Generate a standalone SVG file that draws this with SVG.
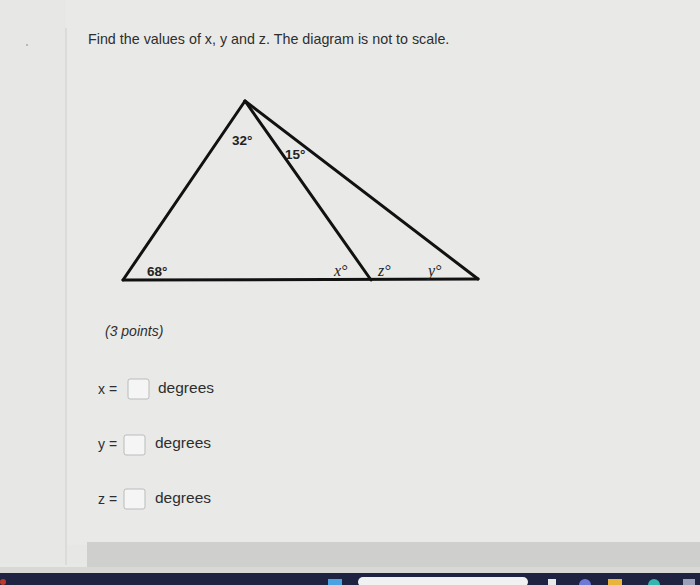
<svg xmlns="http://www.w3.org/2000/svg" width="700" height="585" viewBox="0 0 700 585">
<style>
.t{font-family:"Liberation Sans",Arial,sans-serif;fill:#2e2e2e}
.lbl{font-family:"Liberation Sans",Arial,sans-serif;font-size:13.5px;font-weight:bold;fill:#222}
.var{font-family:"Liberation Serif","Times New Roman",serif;font-style:italic;font-size:16px;fill:#222}
.box{fill:#f4f5f4;stroke:#b9bcbc;stroke-width:1}
.edge{stroke:#111;stroke-width:3;stroke-linecap:round;fill:none}
</style>
<rect width="700" height="585" fill="#e7e8e6"/>
<rect x="66" y="0" width="634" height="545" fill="#e9eae8"/>
<line x1="66" y1="28" x2="66" y2="565" stroke="#d3d4d2" stroke-width="1.2"/>
<circle cx="27" cy="45" r="1" fill="#aaa"/>
<text class="t" x="88" y="44" font-size="14.3">Find the values of x, y and z. The diagram is not to scale.</text>
<g id="connectors">
<line class="edge" x1="123" y1="280" x2="245" y2="101"/>
<line class="edge" x1="245" y1="101" x2="478" y2="279"/>
<line class="edge" x1="245" y1="101" x2="371" y2="280"/>
<line class="edge" x1="123" y1="280" x2="478" y2="279"/>
</g>
<g id="apex"><text class="lbl" x="232" y="145">32°</text><text class="lbl" x="285" y="159">15°</text></g>
<g id="left"><text class="lbl" x="147" y="276">68°</text></g>
<g id="base"><text class="var" x="334" y="276">x°</text><text class="var" x="378" y="276">z°</text><text class="var" x="428" y="276">y°</text></g>
<text class="t" x="105" y="336" font-size="14" font-style="italic">(3 points)</text>
<g id="ansx"><text class="t" x="98" y="394" font-size="14">x =</text><rect class="box" x="128" y="379" width="21" height="20" rx="2"/><text class="t" x="158" y="393" font-size="15.5">degrees</text></g>
<g id="ansy"><text class="t" x="98" y="449" font-size="14">y =</text><rect class="box" x="124" y="435" width="21" height="20" rx="2"/><text class="t" x="155" y="448" font-size="15.5">degrees</text></g>
<g id="ansz"><text class="t" x="98" y="504" font-size="14">z =</text><rect class="box" x="124" y="489" width="21" height="20" rx="2"/><text class="t" x="155" y="503" font-size="15.5">degrees</text></g>
<rect x="87" y="542" width="613" height="25" fill="#cfd0ce"/>
<rect x="0" y="567" width="700" height="6" fill="#d8d9d7"/>
<rect x="0" y="573" width="700" height="12" fill="#1d2340"/>
<circle cx="3" cy="582" r="3" fill="#c0392b"/>
<rect x="328" y="579" width="14" height="6" fill="#4aa3e0"/>
<rect x="358" y="577" width="170" height="10" rx="5" fill="#f1f1f1"/>
<rect x="548" y="579" width="8" height="6" fill="#e8e8e8"/>
<circle cx="585" cy="585" r="6" fill="#6f7ad8"/>
<rect x="608" y="579" width="14" height="6" fill="#e8b43a"/>
<circle cx="654" cy="585" r="6" fill="#33b5b0"/>
<rect x="683" y="579" width="12" height="6" fill="#9aa0b8"/>
</svg>
